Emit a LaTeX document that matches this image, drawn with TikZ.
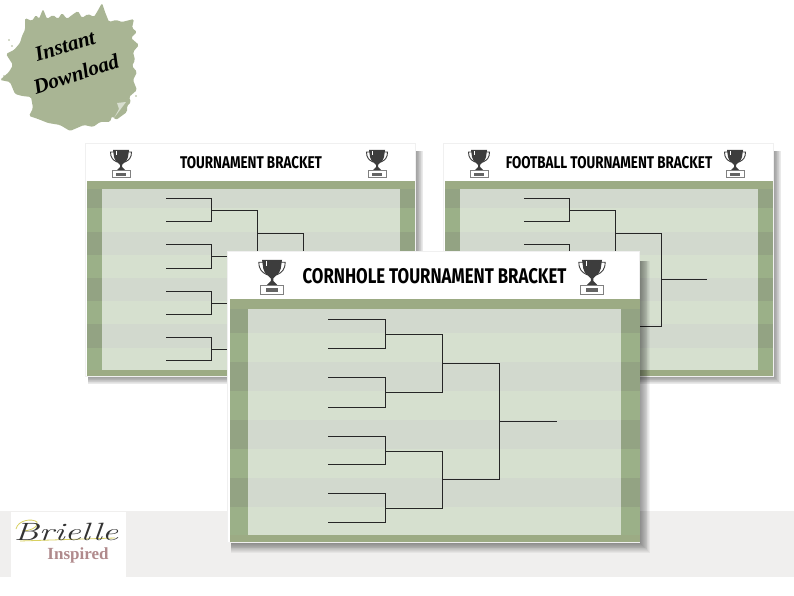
\documentclass[tikz,border=0pt]{standalone}
\usepackage{fontspec}
\newfontfamily\titlefont{Fira Sans}
\newfontfamily\logofont{Liberation Serif}
\definecolor{splash}{HTML}{A9B594}
\definecolor{bandgray}{HTML}{F0EFEE}
\definecolor{framegreen}{HTML}{9BB088}
\definecolor{framedark}{HTML}{93A383}
\definecolor{frametop}{HTML}{9CAB84}
\definecolor{rowgray}{HTML}{D2D9CE}
\definecolor{rowlight}{HTML}{D6E0CF}
\definecolor{cupgray}{HTML}{3D3D3D}
\definecolor{rose}{HTML}{B08A8C}
\definecolor{goldline}{HTML}{D8D060}
\tikzset{
    bracketline/.style={draw=black!85, line width=1pt, line join=miter},
    titletext/.style={font=\titlefont\bfseries\fontsize{17}{17}\selectfont, text=black, inner sep=0pt},
    brushtext/.style={font=\logofont\bfseries\itshape\fontsize{21}{21}\selectfont, text=black, inner sep=0pt},
    pics/trophy/.style={code={
        \draw[cupgray, line width=0.9pt] (-7,2) -- (-10.5,2) .. controls (-10.5,8) and (-8,10) .. (-4,12);
        \draw[cupgray, line width=0.9pt] (7,2) -- (10.5,2) .. controls (10.5,8) and (8,10) .. (4,12);
        \fill[cupgray] (-8,0) -- (8,0) -- (7,7) .. controls (6,12) and (2,13) .. (1,15) -- (1,17) -- (4,20)
            -- (-4,20) -- (-1,17) -- (-1,15) .. controls (-2,13) and (-6,12) .. (-7,7) -- cycle;
        \fill[white] (-5,1) rectangle (-4,5);
        \draw[gray, fill=white, line width=0.6pt] (-9,20.5) rectangle (9,27.5);
        \fill[cupgray!80] (-5,22.5) rectangle (5,25.5);
    }},
    pics/sheet/.style={code={
        \foreach \d in {1,...,12} {
            \fill[black, opacity=0.045] (3,8) rectangle (330+0.7*\d, 233+0.7*\d);
        }
        \draw[black!6, fill=white] (0,0) rectangle (330,233);
        \fill[framegreen] (2,38) rectangle (330,233);
        \foreach \i in {0,...,7} {
            \pgfmathsetmacro\ytop{42.2+23.2*\i}
            \pgfmathsetmacro\ybot{42.2+23.2*(\i+1)}
            \ifodd\i
                \fill[rowlight] (17,\ytop) rectangle (315,\ybot);
            \else
                \fill[rowgray] (17,\ytop) rectangle (315,\ybot);
                \fill[framedark] (2,\ytop) rectangle (17,\ybot);
                \fill[framedark] (315,\ytop) rectangle (330,\ybot);
            \fi
        }
        \fill[frametop] (2,38) rectangle (330,46);
        \fill[frametop] (2,227) rectangle (330,233);
        \foreach \ya/\yb in {55/78, 101/125, 148/171, 194/217} {
            \draw[bracketline] (81,\ya) -- (126.5,\ya) -- (126.5,\yb) -- (81,\yb);
        }
        \foreach \ya/\yb in {67/113, 160/206} {
            \draw[bracketline] (126.5,\ya) -- (172,\ya) -- (172,\yb) -- (126.5,\yb);
        }
        \draw[bracketline] (172,90) -- (218,90) -- (218,183) -- (172,183);
        \draw[bracketline] (218,136) -- (264,136);
        \pic at (36,7) {trophy};
        \pic at (292,7) {trophy};
        \node[titletext] (-title) at (166,20) {\scalebox{0.79}[1]{#1}};
    }},
}
\begin{document}
\begin{tikzpicture}[x=1pt, y=-1pt]
    \useasboundingbox (0,0) rectangle (794,596);
    \fill[bandgray] (0,511) rectangle (794,577);
    \fill[splash, rounded corners=1.5pt] (25,18) -- (32,21) -- (36,15) -- (39,19) -- (43,9) -- (47,19) -- (53,15) -- (58,19) -- (62,13)
        -- (67,19) -- (72,15) -- (78,11) -- (82,18) -- (88,14) -- (94,17) -- (97,12) -- (102,3) -- (105,12)
        -- (109,22) -- (116,20) -- (122,22) -- (134,19) -- (132,28) -- (137,32) -- (131,38) -- (139,45)
        -- (133,52) -- (135,60) -- (132,66) -- (137,72) -- (133,80) -- (137,90) -- (129,97) -- (131,102)
        -- (127,106) -- (127,112) -- (116,120) -- (112,116) -- (110,122) -- (100,122) -- (93,127) -- (84,125)
        -- (70,131) -- (60,125) -- (48,123) -- (38,119) -- (29,116) -- (33,108) -- (31,97) -- (22,96) -- (15,94)
        -- (10,82) -- (0,80) -- (9,72) -- (13,65) -- (6,54) -- (14,50) -- (20,43) -- (22,36) -- (25,30) -- cycle;
    \foreach \sx/\sy in {9/40, 12/46, 136/96, 4/76} {
        \fill[splash] (\sx,\sy) circle (0.8);
    }
    \fill[splash!45] (117,103) -- (126,102) -- (114,118) -- (119,109) -- cycle;
    \node[brushtext, rotate=17] (instant) at (65,46) {Instant};
    \node[brushtext, rotate=18] (download) at (76,74) {Download};
    \fill[white] (11,512) rectangle (126,578);
    \draw[goldline, line width=0.8pt] (16,529) .. controls (18,520) and (32,518) .. (37,522)
        .. controls (39,527) and (30,531) .. (22,531);
    \draw[goldline, line width=0.8pt] (20,541) -- (115,538);
    \node[font=\itshape\fontsize{25}{25}\selectfont, text=black!80, inner sep=0pt] (brielle) at (66,532) {\scalebox{1.45}[1]{Brielle}};
    \node[font=\logofont\bfseries\fontsize{17}{17}\selectfont, text=rose, inner sep=0pt] (inspired) at (78,555) {Inspired};
    \pic (left) at (85,143) {sheet={TOURNAMENT BRACKET}};
    \pic (right) at (443,143) {sheet={FOOTBALL TOURNAMENT BRACKET}};
    \begin{scope}[shift={(227,251)}, scale=1.25, transform shape]
        \pic (front) at (0,0) {sheet={CORNHOLE TOURNAMENT BRACKET}};
    \end{scope}
\end{tikzpicture}
\end{document}
